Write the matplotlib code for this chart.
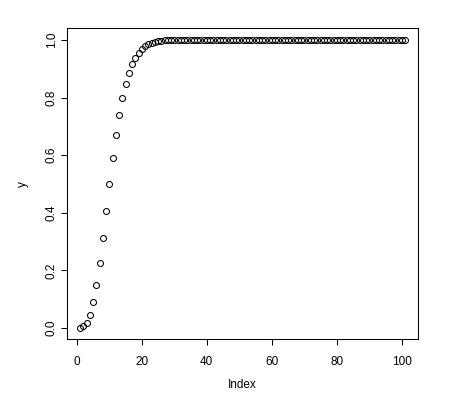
import numpy as np
import matplotlib
matplotlib.use("Agg")
import matplotlib.pyplot as plt

plt.rcParams['font.family'] = ['Liberation Sans', 'DejaVu Sans']

# values (index 1..101)
rising = [0.0, 0.006, 0.018, 0.046, 0.089, 0.15, 0.226, 0.314, 0.407, 0.5,
          0.589, 0.669, 0.739, 0.798, 0.847, 0.885, 0.916, 0.939, 0.956, 0.969,
          0.979, 0.986, 0.991, 0.994, 0.996, 0.998, 0.999]
plateau = [1.0] * (101 - len(rising))
y = np.array(rising + plateau)
index = np.arange(1, len(y) + 1)

x_ticks = [0, 20, 40, 60, 80, 100]
y_ticks = [0.0, 0.2, 0.4, 0.6, 0.8, 1.0]

fig = plt.figure(figsize=(4.74, 4.12), dpi=100)
ax = fig.add_axes([0.1414, 0.176, 0.7405, 0.755])

ax.plot(index, y, linestyle='none', marker='o', markersize=4.3,
        markerfacecolor='none', markeredgecolor='black', markeredgewidth=0.75)

ax.set_xlim(-3, 105)
ax.set_ylim(-0.04, 1.04)
ax.set_xticks(x_ticks)
ax.set_xticklabels([str(t) for t in x_ticks])
ax.set_yticks(y_ticks)
ax.set_yticklabels([f"{t:.1f}" for t in y_ticks], rotation=90, va='center')

ax.tick_params(direction='out', length=4.5, width=0.75, labelsize=8.5)
ax.tick_params(axis='x', pad=7.5)
ax.tick_params(axis='y', pad=2.2)
for s in ax.spines.values():
    s.set_linewidth(0.75)

ax.set_xlabel("Index", fontsize=8.5, labelpad=8)
ax.set_ylabel("y", fontsize=8.5, labelpad=12)

fig.savefig("out.png", dpi=100)
